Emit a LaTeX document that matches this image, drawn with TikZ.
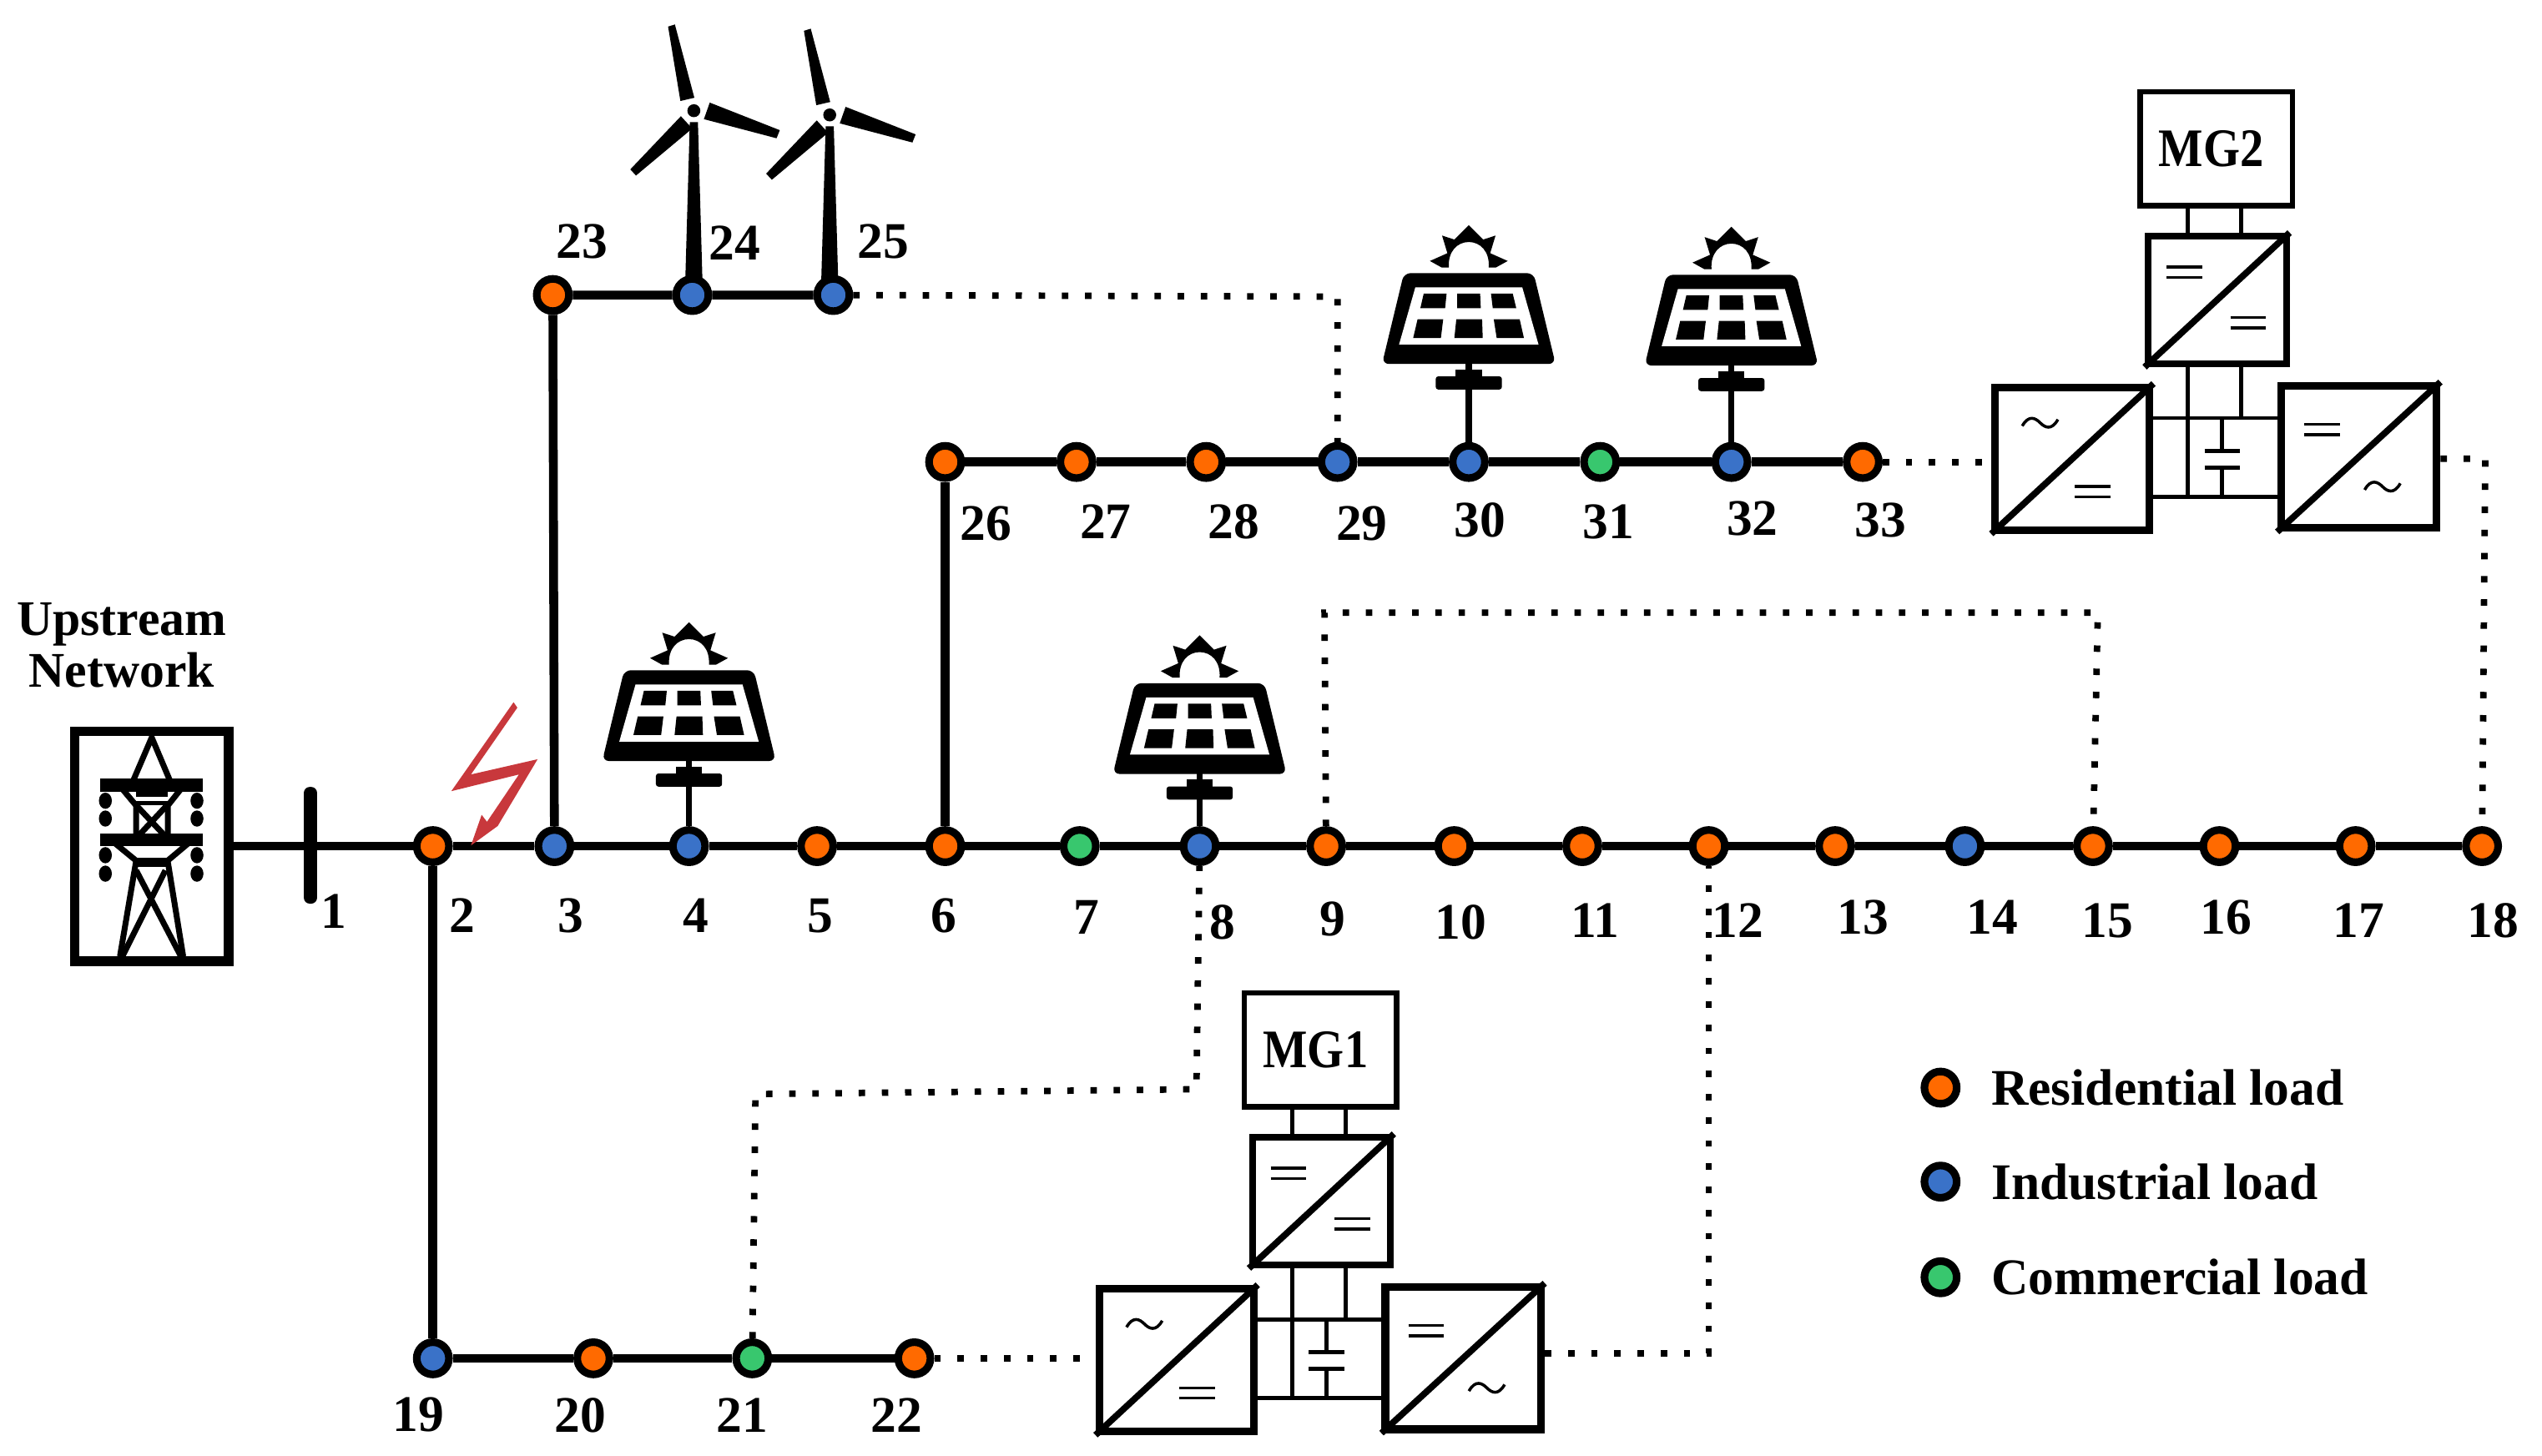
\documentclass[tikz,border=0pt]{standalone}
\usepackage{fontspec}
\setmainfont{Liberation Serif}
\usetikzlibrary{arrows.meta}

\definecolor{resload}{HTML}{FF6A00}
\definecolor{indload}{HTML}{3A72C8}
\definecolor{comload}{HTML}{38C76E}
\definecolor{faultred}{HTML}{C8383C}

\def\px{0.19426mm}

\tikzset{
    load/.style = {circle, draw=black, line width=2.6pt, minimum size=11pt, inner sep=0pt},
    res/.style = {load, fill=resload},
    ind/.style = {load, fill=indload},
    com/.style = {load, fill=comload},
    bus/.style = {line width=3pt},
    tie/.style = {line width=2.2pt, dash pattern=on 2.2pt off 5.7pt},
    link/.style = {line width=1.4pt},
    num/.style = {font=\bfseries\fontsize{17.5}{17.5}\selectfont, inner sep=0pt},
    box/.style = {draw=black, fill=white, inner sep=0pt, line width=2.5pt},
    pics/eqsign/.style = {code={
        \draw [line width=1pt] (-11,-3.2) -- (11,-3.2);
        \draw [line width=1pt] (-11,3.2) -- (11,3.2);
    }},
    pics/wave/.style = {code={
        \draw [line width=1pt] (-11,2) .. controls (-7,-5) and (-3,-3) .. (0,0) .. controls (3,3) and (7,5) .. (11,-2);
    }},
    pics/solar/.style = {code={
        \draw [link, line width=2.1pt] (0,0) -- (0,16);
        \fill [rounded corners=0.8mm] (-40,-55.5) -- (40,-55.5) -- (53.5,0.5) -- (-53.5,0.5) -- cycle;
        \fill [white] (-33,-46.7) -- (33,-46.7) -- (43,-11.5) -- (-43,-11.5) -- cycle;
        \fill (-27.8,-42.9) -- (-13.7,-42.9) -- (-14.6,-33.8) -- (-29.9,-33.8) -- cycle;
        \fill (-7.2,-42.9) -- (7,-42.9) -- (7.4,-33.8) -- (-7.2,-33.8) -- cycle;
        \fill (13.7,-42.9) -- (27.1,-42.9) -- (29.3,-33.8) -- (14.8,-33.8) -- cycle;
        \fill (-31.6,-27) -- (-15.8,-27) -- (-17.2,-15.5) -- (-34.3,-15.5) -- cycle;
        \fill (-7.7,-27) -- (8.2,-27) -- (8.6,-15.5) -- (-8.9,-15.5) -- cycle;
        \fill (15.4,-27) -- (31.4,-27) -- (34,-15.5) -- (17.2,-15.5) -- cycle;
        \fill [rounded corners=0.3mm] (-20.4,8.2) rectangle (20.4,16.3);
        \fill (-8,3.9) rectangle (8,8.2);
        % sun
        \fill (-12.3,-58.9) -- (-16.6,-58.9) -- (-24,-63) -- (-13.2,-67.8) -- (-16.5,-78.7) -- (-8.9,-76.2) -- (0,-85.1)
            -- (8.9,-76.2) -- (16.5,-78.7) -- (13.2,-67.8) -- (24,-63) -- (16.6,-58.9) -- (12.3,-58.9)
            .. controls (13,-69) and (7,-74.7) .. (0,-74.7) .. controls (-7,-74.7) and (-13,-69) .. (-12.3,-58.9) -- cycle;
        \coordinate (base) at (0,16);
    }},
    pics/wind/.style = {code={
        \fill (-2.5,7) -- (2.5,7) -- (5.5,112) -- (-5.5,112) -- cycle;
        \fill (0,0) circle (4);
        \fill (-11.7,-53.2) -- (-15.9,-51.9) -- (-8.3,-6) -- (0.3,-8) -- cycle;
        \fill (51,17) -- (53,12) -- (9.8,-5) -- (6.2,5.2) -- cycle;
        \fill (-35.7,40) -- (-39.2,36.2) -- (-8,3.4) -- (-1,11) -- cycle;
    }},
    pics/microgrid/.style = {code={
        \node [box, line width=1.9pt, minimum width=94*\px, minimum height=70.3*\px] (src) at (0,0) {};
        \node [num, font=\bfseries\fontsize{18.5}{18.5}\selectfont, xscale=0.87, transform shape] (name) at (-3,0) {#1};
        \node [box, line width=2.3pt, minimum width=85.3*\px, minimum height=78.8*\px] (dc) at (0.6,93.2) {};
        \node [box, line width=2.6pt, minimum width=95.4*\px, minimum height=88*\px] (acl) at (-88.7,191.2) {};
        \node [box, line width=2.6pt, minimum width=96*\px, minimum height=87.8*\px] (acr) at (88,190.1) {};
        \coordinate (tl) at (-17.5,166.1);
        \coordinate (tr) at (15.6,166.1);
        \coordinate (bl) at (-17.5,214.9);
        \coordinate (cp) at (3.8,186.3);
        \coordinate (cq) at (3.8,196.6);
        \draw [link] (src.south -| tl) -- (dc.north -| tl);
        \draw [link] (src.south -| tr) -- (dc.north -| tr);
        \draw [link] (dc.south -| tl) -- (bl);
        \draw [link] (dc.south -| tr) -- (tr);
        \draw [link] (acl.east |- tl) -- (acr.west |- tl);
        \draw [link] (acl.east |- bl) -- (acr.west |- bl);
        \draw [link] (tl -| cp) -- (cp);
        \draw [link] (cq) -- (bl -| cq);
        \draw [link] (-7.2,186.3) -- (14.8,186.3);
        \draw [link] (-7.2,196.6) -- (14.8,196.6);
        \draw [line width=2.2pt] (dc.south west) -- (dc.north east);
        \draw [line width=2.2pt] (acl.south west) -- (acl.north east);
        \draw [line width=2.2pt] (acr.south west) -- (acr.north east);
        \pic at (-19.7,76.2) {eqsign};
        \pic at (19.8,107.2) {eqsign};
        \pic at (-108.6,169) {wave};
        \pic at (-76.2,211.6) {eqsign};
        \pic at (65.3,173.2) {eqsign};
        \pic at (102.6,208.4) {wave};
    }},
}

\begin{document}
\begin{tikzpicture}[line cap=butt, x=\px, y=-\px]

    \useasboundingbox (0,0) rectangle (1568,897.8);

    % upstream network
    \node [box, line width=3.2pt, minimum width=95*\px, minimum height=142*\px] (grid) at (93.5,522) {};
    \node [num, align=center, font=\bfseries\fontsize{17}{17.7}\selectfont] (up) at (75,398) {Upstream\\Network};
    \draw [line width=2pt] (82,482) -- (93.6,455) -- (105,482);
    \fill (62,480.5) rectangle (125,488.5);
    \fill (62,514) rectangle (125,522);
    \draw [line width=2pt] (74,485) -- (84,497) -- (84,516);
    \draw [line width=2pt] (113,485) -- (103.5,497) -- (103.5,516);
    \draw [line width=1.6pt] (84,490) -- (103.5,490);
    \draw [line width=1.6pt] (84,495.5) -- (103.5,495.5);
    \draw [line width=2pt] (84.7,497.5) -- (102.4,516.4);
    \draw [line width=2pt] (102.4,497.5) -- (84.7,516.4);
    \draw [line width=2pt] (70.6,520) -- (84,531) -- (74,590);
    \draw [line width=2pt] (116.5,520) -- (103.4,531) -- (113,590);
    \draw [line width=3pt] (84,532) -- (103.4,532);
    \draw [line width=2pt] (84,537) -- (111.6,590);
    \draw [line width=2pt] (102,537) -- (75.5,590);
    \fill (65,494) ellipse (4 and 5) (65,505) ellipse (4 and 5) (65,527.6) ellipse (4 and 5) (65,539) ellipse (4 and 5);
    \fill (121.5,494) ellipse (4 and 5) (121.5,505) ellipse (4 and 5) (121.5,527.6) ellipse (4 and 5) (121.5,539) ellipse (4 and 5);

    % sources
    \pic (pva) at (425,469) {solar};
    \pic (pvb) at (740,477) {solar};
    \pic (pvc) at (906,224) {solar};
    \pic (pvd) at (1068,225) {solar};
    \pic at (428,68.3) {wind};
    \pic at (511.8,70.9) {wind};
    \pic (mga) at (814.5,647.8) {microgrid={MG1}};
    \pic (mgb) at (1367,91.8) {microgrid={MG2}};

    % buses
    \node [fill=black, rounded corners=0.7mm, minimum width=4.5pt, minimum height=72*\px, inner sep=0pt] (bar1) at (191.5,521.5) {};
    \node [res] (n2) at (267,522) {};
    \node [ind] (n3) at (342,522) {};
    \node [ind] (n4) at (425,522) {};
    \node [res] (n5) at (504,522) {};
    \node [res] (n6) at (583,522) {};
    \node [com] (n7) at (666,522) {};
    \node [ind] (n8) at (740,522) {};
    \node [res] (n9) at (818,522) {};
    \node [res] (n10) at (897,522) {};
    \node [res] (n11) at (976,522) {};
    \node [res] (n12) at (1054,522) {};
    \node [res] (n13) at (1132,522) {};
    \node [ind] (n14) at (1212,522) {};
    \node [res] (n15) at (1291,522) {};
    \node [res] (n16) at (1369,522) {};
    \node [res] (n17) at (1453,522) {};
    \node [res] (n18) at (1531,522) {};
    \node [ind] (n19) at (267,838) {};
    \node [res] (n20) at (366,838) {};
    \node [com] (n21) at (464,838) {};
    \node [res] (n22) at (564,838) {};
    \node [res] (n23) at (341,182) {};
    \node [ind] (n24) at (427,182) {};
    \node [ind] (n25) at (514,182) {};
    \node [res] (n26) at (583,285) {};
    \node [res] (n27) at (664,285) {};
    \node [res] (n28) at (744,285) {};
    \node [ind] (n29) at (825,285) {};
    \node [ind] (n30) at (906,285) {};
    \node [com] (n31) at (987,285) {};
    \node [ind] (n32) at (1068,285) {};
    \node [res] (n33) at (1149,285) {};

    % lines
    \draw [bus] (grid) -- (n2) -- (n3) -- (n4) -- (n5) -- (n6) -- (n7) -- (n8) -- (n9) -- (n10) -- (n11) -- (n12) -- (n13) -- (n14) -- (n15) -- (n16) -- (n17) -- (n18);
    \draw [bus] (n2) -- (n19) -- (n20) -- (n21) -- (n22);
    \draw [bus] (n3) -- (n23) -- (n24) -- (n25);
    \draw [bus] (n6) -- (n26) -- (n27) -- (n28) -- (n29) -- (n30) -- (n31) -- (n32) -- (n33);
    \draw [line width=2.1pt] (pvabase) -- (n4);
    \draw [line width=2.1pt] (pvbbase) -- (n8);
    \draw [line width=2.1pt] (pvcbase) -- (n30);
    \draw [line width=2.1pt] (pvdbase) -- (n32);

    % tie lines
    \coordinate (ka) at (825,183);
    \coordinate (kb) at (817,378);
    \coordinate (kc) at (1294,378);
    \coordinate (kd) at (1533,283);
    \coordinate (ke) at (466,675);
    \coordinate (kf) at (738,672);
    \coordinate (kg) at (1054,835);
    \draw [tie] (n25) -- (ka) -- (n29);
    \draw [tie] (n9) -- (kb) -- (kc) -- (n15);
    \draw [tie] (n33) -- (mgbacl.west |- n33);
    \draw [tie] (mgbacr.east |- kd) -- (kd) -- (n18);
    \draw [tie] (n22) -- (mgaacl.west |- n22);
    \draw [tie] (n21) -- (ke) -- (kf) -- (n8);
    \draw [tie] (mgaacr.east |- kg) -- (kg) -- (n12);

    % fault
    \fill [faultred] (316.8,433.2) -- (278.4,488.1) -- (320.1,477.8) -- (300.4,507) -- (297.1,502.7) -- (290.5,521.6) -- (307,509.6) -- (331.6,468.4) -- (290.5,477.8) -- (319.1,436.6) -- cycle;

    % numbers
    \node [num] (t1) at (206,562) {1};
    \node [num] (t2) at (285,565) {2};
    \node [num] (t3) at (352,565) {3};
    \node [num] (t4) at (429,565) {4};
    \node [num] (t5) at (506,565) {5};
    \node [num] (t6) at (582,565) {6};
    \node [num] (t7) at (670,566) {7};
    \node [num] (t8) at (754,569) {8};
    \node [num] (t9) at (822,567) {9};
    \node [num] (t10) at (901,569) {10};
    \node [num] (t11) at (984,568) {11};
    \node [num] (t12) at (1072,568) {12};
    \node [num] (t13) at (1149,566) {13};
    \node [num] (t14) at (1229,566) {14};
    \node [num] (t15) at (1300,568) {15};
    \node [num] (t16) at (1373,566) {16};
    \node [num] (t17) at (1455,568) {17};
    \node [num] (t18) at (1538,568) {18};
    \node [num] (t19) at (258,873) {19};
    \node [num] (t20) at (358,873) {20};
    \node [num] (t21) at (458,873) {21};
    \node [num] (t22) at (553,873) {22};
    \node [num] (t23) at (359,149) {23};
    \node [num] (t24) at (453,150) {24};
    \node [num] (t25) at (545,149) {25};
    \node [num] (t26) at (608,323) {26};
    \node [num] (t27) at (682,322) {27};
    \node [num] (t28) at (761,322) {28};
    \node [num] (t29) at (840,323) {29};
    \node [num] (t30) at (913,321) {30};
    \node [num] (t31) at (992,322) {31};
    \node [num] (t32) at (1081,320) {32};
    \node [num] (t33) at (1160,321) {33};

    % legend
    \node [res] (lega) at (1197,671) {};
    \node [ind] (legb) at (1197,729) {};
    \node [com] (legc) at (1197,788) {};
    \node [num, anchor=west] (texta) at (1228,671) {Residential load};
    \node [num, anchor=west] (textb) at (1228,729) {Industrial load};
    \node [num, anchor=west] (textc) at (1228,788) {Commercial load};

\end{tikzpicture}
\end{document}
